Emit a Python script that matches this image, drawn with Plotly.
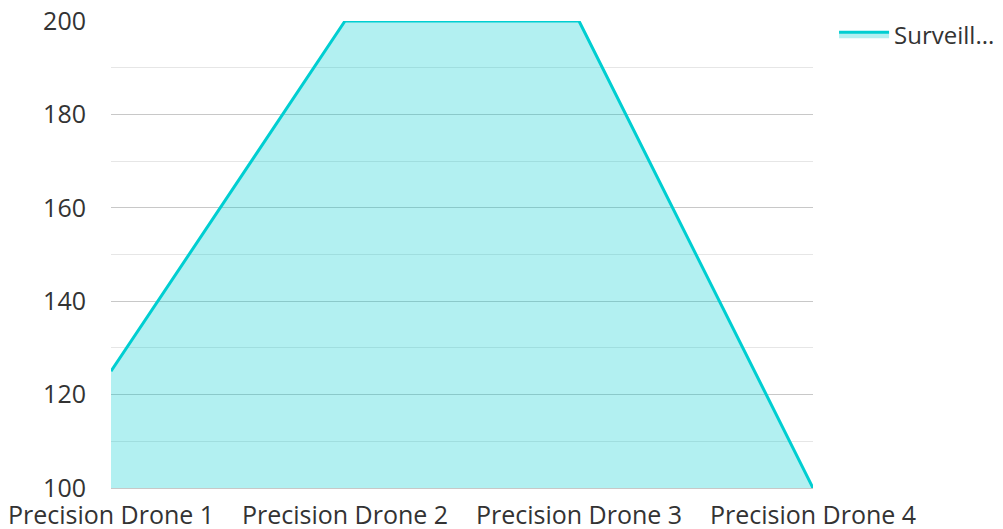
import plotly.graph_objects as go

categories = ["Precision Drone 1", "Precision Drone 2", "Precision Drone 3", "Precision Drone 4"]
values = [125, 200, 200, 100]
series_name = "Surveill..."
y_ticks = [100, 120, 140, 160, 180, 200]

fig = go.Figure()
fig.add_trace(go.Scatter(
    x=list(range(len(categories))),
    y=values,
    mode="lines",
    name=series_name,
    line=dict(color="rgb(0,206,209)", width=3),
    fill="tozeroy",
    fillcolor="rgba(0,206,209,0.3)",
))

fig.update_layout(
    width=995, height=521,
    margin=dict(l=103, r=190, t=13, b=41, autoexpand=False),
    paper_bgcolor="white", plot_bgcolor="white",
    font=dict(family="Open Sans", size=25, color="#333333"),
    showlegend=True,
    legend=dict(x=1.03, y=1.019, xanchor="left", yanchor="top",
                font=dict(size=24, color="#333333"), itemwidth=50),
    xaxis=dict(
        tickmode="array",
        tickvals=list(range(len(categories))),
        ticktext=categories,
        range=[0, len(categories) - 1],
        showgrid=False, zeroline=False,
        showline=True, linecolor="#c8c8c8", linewidth=1,
        ticks="", ticklen=0, automargin=False,
        ticklabelstandoff=5, ticklabeloverflow="allow",
    ),
    yaxis=dict(
        range=[100, 200],
        tickmode="array", tickvals=y_ticks,
        showgrid=True, gridcolor="#c8c8c8", gridwidth=1,
        zeroline=False, showline=False, ticks="", automargin=False,
        ticklabelstandoff=24, ticklabeloverflow="allow",
        minor=dict(dtick=10, tick0=100, showgrid=True, gridcolor="#e6e6e6", gridwidth=1),
    ),
)

fig.write_html("out.html")
